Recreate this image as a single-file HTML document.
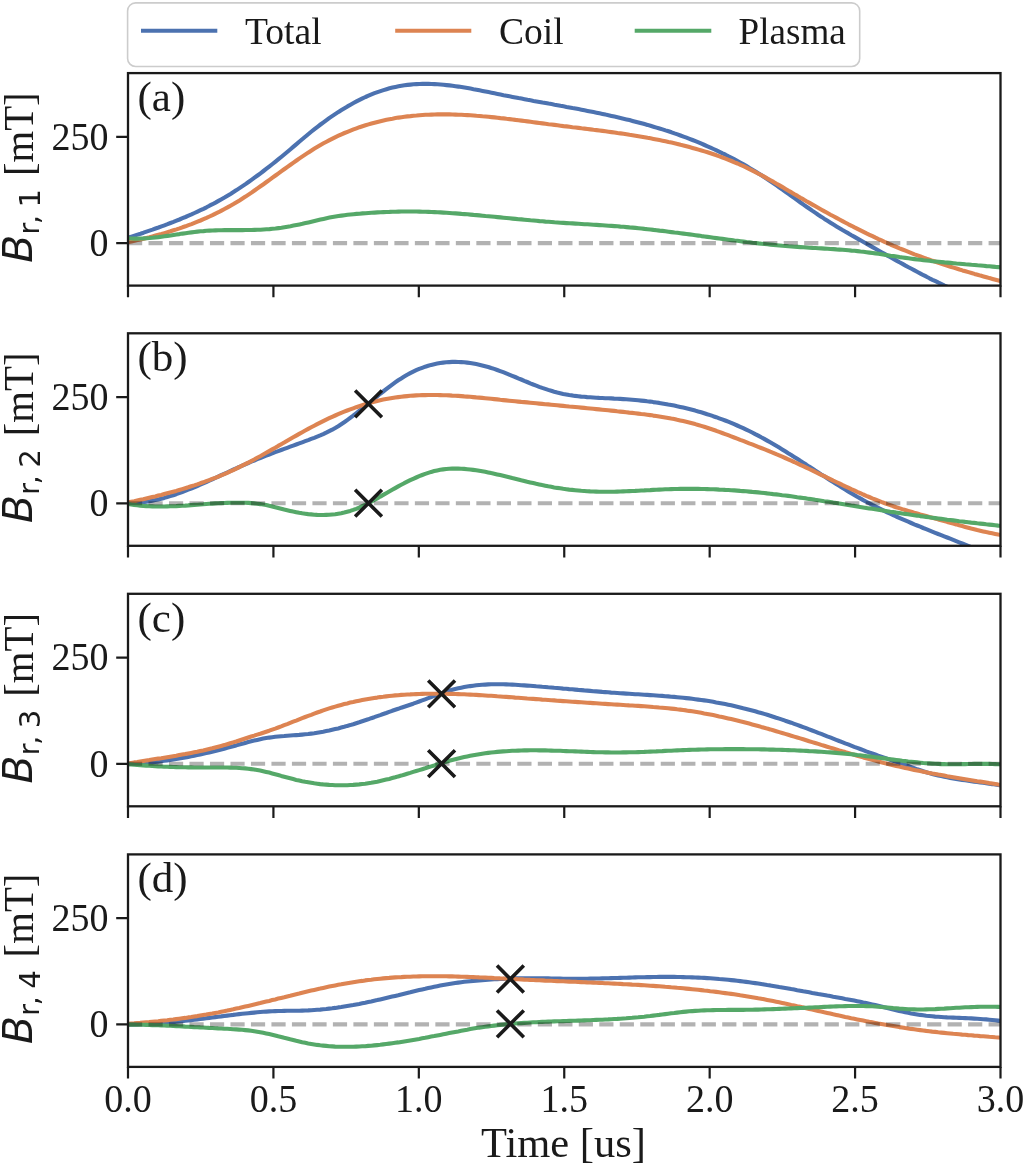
<!DOCTYPE html>
<html><head><meta charset="utf-8"><title>Br plots</title>
<style>
html,body{margin:0;padding:0;background:#fff;width:1025px;height:1165px;overflow:hidden}
svg{display:block}
text{font-family:'Liberation Serif', 'Times New Roman', serif;fill:#1a1a1a}
.tl{font-size:38px}
.al{font-size:42.5px}
.lg{font-size:37.6px}
.pl{font-size:43px}
.m{font-family:'DejaVu Sans',sans-serif}
</style></head><body>
<svg width="1025" height="1165" viewBox="0 0 1025 1165">
<defs>
<clipPath id="c0"><rect x="128.00" y="73.10" width="872.50" height="212.50"/></clipPath>
<clipPath id="c1"><rect x="128.00" y="333.30" width="872.50" height="212.50"/></clipPath>
<clipPath id="c2"><rect x="128.00" y="593.80" width="872.50" height="212.50"/></clipPath>
<clipPath id="c3"><rect x="128.00" y="854.40" width="872.50" height="212.50"/></clipPath>
</defs>
<rect width="1025" height="1165" fill="#fff"/>
<g clip-path="url(#c0)" fill="none" stroke-width="4.10" stroke-linejoin="round" stroke-linecap="butt">
<path d="M128.5 237.6L131.5 236.6 134.5 235.6 137.5 234.6 140.5 233.7 143.5 232.7 146.5 231.6 149.5 230.6 152.5 229.6 155.5 228.5 158.5 227.5 161.5 226.4 164.5 225.3 167.5 224.2 170.5 223.0 173.5 221.9 176.5 220.7 179.5 219.5 182.5 218.2 185.5 217.0 188.5 215.7 191.5 214.4 194.5 213.0 197.5 211.6 200.5 210.2 203.5 208.8 206.5 207.3 209.5 205.7 212.5 204.2 215.5 202.6 218.5 200.9 221.5 199.2 224.5 197.5 227.5 195.7 230.5 193.9 233.5 192.0 236.5 190.1 239.5 188.1 242.5 186.1 245.5 184.1 248.5 182.0 251.5 179.9 254.5 177.7 257.5 175.5 260.5 173.3 263.5 171.0 266.5 168.7 269.5 166.4 272.5 164.0 275.5 161.6 278.5 159.2 281.5 156.7 284.5 154.2 287.5 151.7 290.5 149.2 293.5 146.6 296.5 144.1 299.5 141.5 302.5 139.0 305.5 136.5 308.5 134.0 311.5 131.5 314.5 129.1 317.5 126.8 320.5 124.5 323.5 122.3 326.5 120.1 329.5 117.9 332.5 115.9 335.5 113.9 338.5 111.9 341.5 110.0 344.5 108.2 347.5 106.4 350.5 104.7 353.5 103.0 356.5 101.4 359.5 99.9 362.5 98.4 365.5 97.0 368.5 95.7 371.5 94.4 374.5 93.2 377.5 92.1 380.5 91.1 383.5 90.1 386.5 89.2 389.5 88.3 392.5 87.6 395.5 86.9 398.5 86.3 401.5 85.8 404.5 85.3 407.5 84.9 410.5 84.6 413.5 84.3 416.5 84.1 419.5 84.0 422.5 83.9 425.5 83.9 428.5 83.9 431.5 84.0 434.5 84.1 437.5 84.3 440.5 84.5 443.5 84.8 446.5 85.1 449.5 85.4 452.5 85.8 455.5 86.2 458.5 86.6 461.5 87.1 464.5 87.6 467.5 88.1 470.5 88.6 473.5 89.2 476.5 89.7 479.5 90.3 482.5 90.9 485.5 91.5 488.5 92.1 491.5 92.7 494.5 93.3 497.5 93.9 500.5 94.5 503.5 95.2 506.5 95.7 509.5 96.3 512.5 96.9 515.5 97.5 518.5 98.1 521.5 98.6 524.5 99.2 527.5 99.8 530.5 100.3 533.5 100.9 536.5 101.4 539.5 101.9 542.5 102.5 545.5 103.0 548.5 103.6 551.5 104.1 554.5 104.7 557.5 105.2 560.5 105.8 563.5 106.3 566.5 106.9 569.5 107.4 572.5 108.0 575.5 108.5 578.5 109.1 581.5 109.7 584.5 110.3 587.5 110.9 590.5 111.5 593.5 112.1 596.5 112.7 599.5 113.3 602.5 113.9 605.5 114.6 608.5 115.2 611.5 115.9 614.5 116.6 617.5 117.3 620.5 118.0 623.5 118.7 626.5 119.4 629.5 120.1 632.5 120.9 635.5 121.7 638.5 122.5 641.5 123.3 644.5 124.1 647.5 124.9 650.5 125.8 653.5 126.7 656.5 127.6 659.5 128.5 662.5 129.4 665.5 130.4 668.5 131.3 671.5 132.3 674.5 133.4 677.5 134.4 680.5 135.5 683.5 136.6 686.5 137.7 689.5 138.8 692.5 140.0 695.5 141.2 698.5 142.4 701.5 143.7 704.5 145.0 707.5 146.3 710.5 147.6 713.5 149.0 716.5 150.4 719.5 151.8 722.5 153.3 725.5 154.7 728.5 156.3 731.5 157.8 734.5 159.4 737.5 161.0 740.5 162.7 743.5 164.4 746.5 166.1 749.5 167.9 752.5 169.7 755.5 171.5 758.5 173.4 761.5 175.3 764.5 177.3 767.5 179.2 770.5 181.3 773.5 183.3 776.5 185.4 779.5 187.5 782.5 189.6 785.5 191.7 788.5 193.9 791.5 196.0 794.5 198.2 797.5 200.3 800.5 202.5 803.5 204.6 806.5 206.7 809.5 208.8 812.5 210.9 815.5 212.9 818.5 215.0 821.5 216.9 824.5 218.9 827.5 220.8 830.5 222.7 833.5 224.6 836.5 226.4 839.5 228.2 842.5 230.0 845.5 231.7 848.5 233.4 851.5 235.2 854.5 236.9 857.5 238.6 860.5 240.3 863.5 242.0 866.5 243.7 869.5 245.4 872.5 247.1 875.5 248.8 878.5 250.5 881.5 252.2 884.5 253.9 887.5 255.6 890.5 257.2 893.5 258.9 896.5 260.6 899.5 262.3 902.5 263.9 905.5 265.6 908.5 267.2 911.5 268.8 914.5 270.4 917.5 272.0 920.5 273.6 923.5 275.2 926.5 276.7 929.5 278.3 932.5 279.8 935.5 281.2 938.5 282.7 941.5 284.1 944.5 285.6 947.5 286.9 950.5 288.3 953.5 289.6 956.5 290.9 959.5 292.2 960.0 292.4" stroke="#4C72B0"/>
<path d="M128.5 242.1L131.5 241.4 134.5 240.8 137.5 240.1 140.5 239.4 143.5 238.7 146.5 237.9 149.5 237.2 152.5 236.4 155.5 235.6 158.5 234.8 161.5 234.0 164.5 233.1 167.5 232.2 170.5 231.3 173.5 230.3 176.5 229.4 179.5 228.4 182.5 227.3 185.5 226.3 188.5 225.2 191.5 224.1 194.5 222.9 197.5 221.7 200.5 220.5 203.5 219.2 206.5 217.9 209.5 216.5 212.5 215.1 215.5 213.6 218.5 212.2 221.5 210.6 224.5 209.0 227.5 207.4 230.5 205.7 233.5 204.0 236.5 202.2 239.5 200.4 242.5 198.5 245.5 196.6 248.5 194.6 251.5 192.6 254.5 190.5 257.5 188.4 260.5 186.3 263.5 184.2 266.5 182.0 269.5 179.9 272.5 177.7 275.5 175.5 278.5 173.4 281.5 171.2 284.5 169.0 287.5 166.8 290.5 164.7 293.5 162.6 296.5 160.5 299.5 158.4 302.5 156.4 305.5 154.4 308.5 152.4 311.5 150.5 314.5 148.6 317.5 146.8 320.5 145.0 323.5 143.3 326.5 141.7 329.5 140.1 332.5 138.6 335.5 137.1 338.5 135.7 341.5 134.3 344.5 133.0 347.5 131.8 350.5 130.6 353.5 129.4 356.5 128.3 359.5 127.2 362.5 126.2 365.5 125.3 368.5 124.4 371.5 123.5 374.5 122.7 377.5 121.9 380.5 121.2 383.5 120.5 386.5 119.8 389.5 119.2 392.5 118.7 395.5 118.1 398.5 117.6 401.5 117.2 404.5 116.8 407.5 116.4 410.5 116.1 413.5 115.7 416.5 115.5 419.5 115.2 422.5 115.0 425.5 114.8 428.5 114.7 431.5 114.6 434.5 114.5 437.5 114.4 440.5 114.4 443.5 114.4 446.5 114.4 449.5 114.4 452.5 114.5 455.5 114.6 458.5 114.7 461.5 114.8 464.5 115.0 467.5 115.1 470.5 115.3 473.5 115.5 476.5 115.8 479.5 116.0 482.5 116.3 485.5 116.5 488.5 116.8 491.5 117.1 494.5 117.4 497.5 117.7 500.5 118.1 503.5 118.4 506.5 118.8 509.5 119.1 512.5 119.5 515.5 119.9 518.5 120.2 521.5 120.6 524.5 121.0 527.5 121.4 530.5 121.8 533.5 122.2 536.5 122.6 539.5 123.0 542.5 123.4 545.5 123.8 548.5 124.2 551.5 124.5 554.5 124.9 557.5 125.3 560.5 125.7 563.5 126.1 566.5 126.4 569.5 126.8 572.5 127.2 575.5 127.5 578.5 127.9 581.5 128.3 584.5 128.6 587.5 129.0 590.5 129.4 593.5 129.8 596.5 130.1 599.5 130.5 602.5 130.9 605.5 131.3 608.5 131.7 611.5 132.1 614.5 132.5 617.5 133.0 620.5 133.4 623.5 133.8 626.5 134.3 629.5 134.8 632.5 135.2 635.5 135.7 638.5 136.2 641.5 136.7 644.5 137.2 647.5 137.8 650.5 138.3 653.5 138.9 656.5 139.5 659.5 140.1 662.5 140.7 665.5 141.3 668.5 142.0 671.5 142.6 674.5 143.3 677.5 144.0 680.5 144.8 683.5 145.5 686.5 146.3 689.5 147.1 692.5 147.9 695.5 148.7 698.5 149.6 701.5 150.5 704.5 151.4 707.5 152.3 710.5 153.3 713.5 154.3 716.5 155.3 719.5 156.4 722.5 157.5 725.5 158.6 728.5 159.8 731.5 161.0 734.5 162.3 737.5 163.5 740.5 164.9 743.5 166.2 746.5 167.6 749.5 169.1 752.5 170.6 755.5 172.1 758.5 173.7 761.5 175.3 764.5 176.9 767.5 178.6 770.5 180.2 773.5 181.9 776.5 183.7 779.5 185.4 782.5 187.1 785.5 188.9 788.5 190.7 791.5 192.4 794.5 194.2 797.5 195.9 800.5 197.7 803.5 199.4 806.5 201.2 809.5 202.9 812.5 204.6 815.5 206.3 818.5 208.0 821.5 209.7 824.5 211.4 827.5 213.0 830.5 214.7 833.5 216.3 836.5 217.9 839.5 219.5 842.5 221.1 845.5 222.7 848.5 224.3 851.5 225.8 854.5 227.4 857.5 228.9 860.5 230.4 863.5 231.9 866.5 233.4 869.5 234.8 872.5 236.2 875.5 237.7 878.5 239.1 881.5 240.4 884.5 241.8 887.5 243.1 890.5 244.5 893.5 245.8 896.5 247.0 899.5 248.3 902.5 249.5 905.5 250.7 908.5 251.9 911.5 253.1 914.5 254.3 917.5 255.4 920.5 256.5 923.5 257.6 926.5 258.7 929.5 259.7 932.5 260.8 935.5 261.8 938.5 262.8 941.5 263.8 944.5 264.8 947.5 265.7 950.5 266.7 953.5 267.6 956.5 268.5 959.5 269.5 962.5 270.4 965.5 271.2 968.5 272.1 971.5 273.0 974.5 273.9 977.5 274.7 980.5 275.6 983.5 276.4 986.5 277.2 989.5 278.1 992.5 278.9 995.5 279.7 998.5 280.5 1001.0 281.2" stroke="#DD8452"/>
<path d="M128.5 238.3L131.5 238.5 134.5 238.6 137.5 238.6 140.5 238.5 143.5 238.4 146.5 238.2 149.5 238.0 152.5 237.7 155.5 237.4 158.5 237.1 161.5 236.7 164.5 236.3 167.5 235.9 170.5 235.5 173.5 235.0 176.5 234.5 179.5 234.1 182.5 233.6 185.5 233.2 188.5 232.8 191.5 232.4 194.5 232.0 197.5 231.6 200.5 231.3 203.5 231.1 206.5 230.8 209.5 230.6 212.5 230.5 215.5 230.4 218.5 230.3 221.5 230.2 224.5 230.1 227.5 230.1 230.5 230.1 233.5 230.1 236.5 230.1 239.5 230.1 242.5 230.1 245.5 230.0 248.5 230.0 251.5 230.0 254.5 229.9 257.5 229.8 260.5 229.7 263.5 229.5 266.5 229.3 269.5 229.1 272.5 228.8 275.5 228.5 278.5 228.1 281.5 227.7 284.5 227.2 287.5 226.7 290.5 226.2 293.5 225.6 296.5 225.0 299.5 224.4 302.5 223.8 305.5 223.1 308.5 222.4 311.5 221.7 314.5 221.0 317.5 220.3 320.5 219.6 323.5 218.9 326.5 218.2 329.5 217.6 332.5 217.0 335.5 216.5 338.5 216.0 341.5 215.6 344.5 215.2 347.5 214.8 350.5 214.5 353.5 214.2 356.5 213.9 359.5 213.7 362.5 213.4 365.5 213.2 368.5 213.0 371.5 212.8 374.5 212.6 377.5 212.4 380.5 212.3 383.5 212.1 386.5 212.0 389.5 211.9 392.5 211.7 395.5 211.7 398.5 211.6 401.5 211.5 404.5 211.5 407.5 211.5 410.5 211.5 413.5 211.5 416.5 211.5 419.5 211.6 422.5 211.7 425.5 211.8 428.5 211.9 431.5 212.0 434.5 212.1 437.5 212.3 440.5 212.4 443.5 212.6 446.5 212.8 449.5 213.0 452.5 213.2 455.5 213.4 458.5 213.6 461.5 213.9 464.5 214.1 467.5 214.3 470.5 214.6 473.5 214.9 476.5 215.1 479.5 215.4 482.5 215.7 485.5 216.0 488.5 216.2 491.5 216.5 494.5 216.8 497.5 217.1 500.5 217.4 503.5 217.7 506.5 218.0 509.5 218.3 512.5 218.6 515.5 218.9 518.5 219.2 521.5 219.4 524.5 219.7 527.5 220.0 530.5 220.3 533.5 220.5 536.5 220.8 539.5 221.1 542.5 221.3 545.5 221.6 548.5 221.8 551.5 222.0 554.5 222.3 557.5 222.5 560.5 222.7 563.5 222.9 566.5 223.1 569.5 223.3 572.5 223.4 575.5 223.6 578.5 223.8 581.5 224.0 584.5 224.2 587.5 224.3 590.5 224.5 593.5 224.7 596.5 224.9 599.5 225.1 602.5 225.3 605.5 225.5 608.5 225.7 611.5 225.9 614.5 226.1 617.5 226.3 620.5 226.6 623.5 226.8 626.5 227.1 629.5 227.4 632.5 227.6 635.5 227.9 638.5 228.2 641.5 228.5 644.5 228.9 647.5 229.2 650.5 229.5 653.5 229.9 656.5 230.2 659.5 230.6 662.5 230.9 665.5 231.3 668.5 231.7 671.5 232.1 674.5 232.5 677.5 232.8 680.5 233.2 683.5 233.6 686.5 234.0 689.5 234.4 692.5 234.8 695.5 235.2 698.5 235.6 701.5 236.1 704.5 236.5 707.5 236.9 710.5 237.3 713.5 237.7 716.5 238.1 719.5 238.5 722.5 238.9 725.5 239.3 728.5 239.7 731.5 240.1 734.5 240.5 737.5 240.8 740.5 241.2 743.5 241.6 746.5 242.0 749.5 242.3 752.5 242.7 755.5 243.0 758.5 243.4 761.5 243.7 764.5 244.0 767.5 244.3 770.5 244.6 773.5 244.9 776.5 245.2 779.5 245.5 782.5 245.8 785.5 246.0 788.5 246.3 791.5 246.5 794.5 246.7 797.5 246.9 800.5 247.1 803.5 247.3 806.5 247.5 809.5 247.7 812.5 247.9 815.5 248.0 818.5 248.2 821.5 248.4 824.5 248.6 827.5 248.8 830.5 249.0 833.5 249.1 836.5 249.4 839.5 249.6 842.5 249.8 845.5 250.0 848.5 250.3 851.5 250.6 854.5 250.8 857.5 251.1 860.5 251.5 863.5 251.8 866.5 252.2 869.5 252.6 872.5 253.0 875.5 253.4 878.5 253.8 881.5 254.3 884.5 254.8 887.5 255.2 890.5 255.7 893.5 256.1 896.5 256.6 899.5 257.1 902.5 257.5 905.5 257.9 908.5 258.3 911.5 258.7 914.5 259.1 917.5 259.5 920.5 259.8 923.5 260.2 926.5 260.5 929.5 260.8 932.5 261.2 935.5 261.5 938.5 261.8 941.5 262.1 944.5 262.4 947.5 262.6 950.5 262.9 953.5 263.2 956.5 263.5 959.5 263.7 962.5 264.0 965.5 264.3 968.5 264.5 971.5 264.8 974.5 265.0 977.5 265.3 980.5 265.5 983.5 265.8 986.5 266.1 989.5 266.3 992.5 266.6 995.5 266.9 998.5 267.1 1001.0 267.4" stroke="#55A868"/>
<path d="M128.00 243.10H1000.50" stroke="#000" stroke-opacity="0.3" stroke-dasharray="14.2 6.29"/>
</g>
<rect x="128.00" y="73.10" width="872.50" height="212.50" fill="none" stroke="#1a1a1a" stroke-width="2.3"/>
<path d="M128.00 285.60v11.6M273.42 285.60v11.6M418.83 285.60v11.6M564.25 285.60v11.6M709.67 285.60v11.6M855.08 285.60v11.6M1000.50 285.60v11.6M128.00 243.10h-11.8M128.00 136.85h-11.8" stroke="#1a1a1a" stroke-width="2.2" fill="none"/>
<text transform="translate(108.6 255.90) scale(1 1.05)" text-anchor="end" class="tl">0</text>
<text transform="translate(108.6 149.65) scale(1 1.05)" text-anchor="end" class="tl">250</text>
<text x="137.5" y="110.80" class="pl">(a)</text>
<g transform="translate(0 261.80) rotate(-90)"><text x="-1.0" y="32.1" class="m" font-style="oblique" font-size="41">B</text><text x="27.0" y="39.4" class="m" font-size="29.2">r</text><text x="37.5" y="39.4" class="m" font-size="29.2">,</text><text x="54.3" y="39.5" class="m" font-size="29.2">1</text><text transform="translate(85.7 32.5) scale(0.96 1)" class="al">[mT]</text></g>
<g clip-path="url(#c1)" fill="none" stroke-width="4.10" stroke-linejoin="round" stroke-linecap="butt">
<path d="M128.2 502.9L131.2 502.9 134.2 502.8 137.2 502.7 140.2 502.4 143.2 502.1 146.2 501.7 149.2 501.2 152.2 500.7 155.2 500.1 158.2 499.4 161.2 498.7 164.2 497.9 167.2 497.0 170.2 496.1 173.2 495.2 176.2 494.2 179.2 493.1 182.2 492.0 185.2 490.9 188.2 489.7 191.2 488.5 194.2 487.3 197.2 486.0 200.2 484.7 203.2 483.4 206.2 482.1 209.2 480.7 212.2 479.4 215.2 478.0 218.2 476.6 221.2 475.2 224.2 473.9 227.2 472.5 230.2 471.1 233.2 469.7 236.2 468.3 239.2 467.0 242.2 465.6 245.2 464.3 248.2 463.0 251.2 461.7 254.2 460.5 257.2 459.2 260.2 458.0 263.2 456.8 266.2 455.7 269.2 454.5 272.2 453.4 275.2 452.2 278.2 451.1 281.2 450.0 284.2 448.9 287.2 447.8 290.2 446.7 293.2 445.6 296.2 444.5 299.2 443.4 302.2 442.3 305.2 441.2 308.2 440.1 311.2 438.9 314.2 437.8 317.2 436.6 320.2 435.4 323.2 434.1 326.2 432.7 329.2 431.2 332.2 429.7 335.2 428.0 338.2 426.2 341.2 424.2 344.2 422.2 347.2 420.1 350.2 417.9 353.2 415.7 356.2 413.3 359.2 411.0 362.2 408.6 365.2 406.1 368.2 403.7 371.2 401.2 374.2 398.7 377.2 396.3 380.2 393.8 383.2 391.5 386.2 389.1 389.2 386.8 392.2 384.6 395.2 382.4 398.2 380.3 401.2 378.4 404.2 376.5 407.2 374.7 410.2 373.1 413.2 371.6 416.2 370.2 419.2 368.9 422.2 367.8 425.2 366.7 428.2 365.8 431.2 364.9 434.2 364.2 437.2 363.6 440.2 363.0 443.2 362.6 446.2 362.3 449.2 362.1 452.2 361.9 455.2 361.9 458.2 362.0 461.2 362.1 464.2 362.3 467.2 362.6 470.2 363.0 473.2 363.5 476.2 364.1 479.2 364.7 482.2 365.4 485.2 366.2 488.2 367.0 491.2 368.0 494.2 368.9 497.2 370.0 500.2 371.1 503.2 372.2 506.2 373.4 509.2 374.6 512.2 375.8 515.2 377.0 518.2 378.3 521.2 379.5 524.2 380.8 527.2 382.0 530.2 383.3 533.2 384.5 536.2 385.6 539.2 386.8 542.2 387.9 545.2 388.9 548.2 389.9 551.2 390.8 554.2 391.7 557.2 392.5 560.2 393.2 563.2 393.9 566.2 394.4 569.2 395.0 572.2 395.4 575.2 395.9 578.2 396.2 581.2 396.6 584.2 396.8 587.2 397.1 590.2 397.3 593.2 397.5 596.2 397.7 599.2 397.9 602.2 398.0 605.2 398.2 608.2 398.3 611.2 398.4 614.2 398.6 617.2 398.7 620.2 398.9 623.2 399.1 626.2 399.3 629.2 399.5 632.2 399.7 635.2 400.0 638.2 400.3 641.2 400.6 644.2 400.9 647.2 401.3 650.2 401.6 653.2 402.1 656.2 402.5 659.2 402.9 662.2 403.4 665.2 403.9 668.2 404.5 671.2 405.0 674.2 405.6 677.2 406.3 680.2 406.9 683.2 407.6 686.2 408.3 689.2 409.0 692.2 409.8 695.2 410.6 698.2 411.5 701.2 412.3 704.2 413.2 707.2 414.2 710.2 415.1 713.2 416.2 716.2 417.2 719.2 418.3 722.2 419.4 725.2 420.5 728.2 421.7 731.2 422.9 734.2 424.2 737.2 425.5 740.2 426.8 743.2 428.2 746.2 429.6 749.2 431.0 752.2 432.5 755.2 434.1 758.2 435.6 761.2 437.3 764.2 438.9 767.2 440.6 770.2 442.3 773.2 444.0 776.2 445.8 779.2 447.6 782.2 449.4 785.2 451.3 788.2 453.2 791.2 455.0 794.2 456.9 797.2 458.8 800.2 460.8 803.2 462.7 806.2 464.6 809.2 466.6 812.2 468.5 815.2 470.5 818.2 472.4 821.2 474.4 824.2 476.3 827.2 478.2 830.2 480.2 833.2 482.1 836.2 484.0 839.2 485.8 842.2 487.7 845.2 489.5 848.2 491.4 851.2 493.2 854.2 494.9 857.2 496.7 860.2 498.4 863.2 500.1 866.2 501.7 869.2 503.3 872.2 504.9 875.2 506.4 878.2 507.9 881.2 509.4 884.2 510.9 887.2 512.3 890.2 513.7 893.2 515.1 896.2 516.5 899.2 517.8 902.2 519.1 905.2 520.4 908.2 521.7 911.2 523.0 914.2 524.3 917.2 525.5 920.2 526.7 923.2 528.0 926.2 529.2 929.2 530.4 932.2 531.6 935.2 532.8 938.2 534.0 941.2 535.1 944.2 536.3 947.2 537.5 950.2 538.7 953.2 539.9 956.2 541.1 959.2 542.3 962.2 543.5 965.2 544.7 968.2 545.9 971.2 547.1 974.2 548.4 977.2 549.6 980.0 550.8" stroke="#4C72B0"/>
<path d="M128.2 502.4L131.2 501.8 134.2 501.2 137.2 500.5 140.2 499.8 143.2 499.2 146.2 498.5 149.2 497.8 152.2 497.1 155.2 496.4 158.2 495.6 161.2 494.9 164.2 494.1 167.2 493.3 170.2 492.5 173.2 491.7 176.2 490.9 179.2 490.0 182.2 489.1 185.2 488.2 188.2 487.3 191.2 486.3 194.2 485.4 197.2 484.4 200.2 483.3 203.2 482.3 206.2 481.2 209.2 480.1 212.2 478.9 215.2 477.8 218.2 476.6 221.2 475.3 224.2 474.1 227.2 472.8 230.2 471.4 233.2 470.1 236.2 468.7 239.2 467.2 242.2 465.7 245.2 464.2 248.2 462.7 251.2 461.1 254.2 459.5 257.2 457.8 260.2 456.2 263.2 454.5 266.2 452.8 269.2 451.1 272.2 449.4 275.2 447.7 278.2 445.9 281.2 444.2 284.2 442.5 287.2 440.7 290.2 439.0 293.2 437.3 296.2 435.6 299.2 433.9 302.2 432.2 305.2 430.5 308.2 428.9 311.2 427.3 314.2 425.7 317.2 424.1 320.2 422.6 323.2 421.1 326.2 419.6 329.2 418.2 332.2 416.8 335.2 415.5 338.2 414.2 341.2 412.9 344.2 411.7 347.2 410.5 350.2 409.4 353.2 408.3 356.2 407.2 359.2 406.2 362.2 405.2 365.2 404.3 368.2 403.4 371.2 402.5 374.2 401.8 377.2 401.0 380.2 400.3 383.2 399.6 386.2 399.0 389.2 398.5 392.2 398.0 395.2 397.5 398.2 397.1 401.2 396.7 404.2 396.4 407.2 396.1 410.2 395.8 413.2 395.6 416.2 395.4 419.2 395.3 422.2 395.1 425.2 395.1 428.2 395.0 431.2 395.0 434.2 395.0 437.2 395.0 440.2 395.1 443.2 395.2 446.2 395.3 449.2 395.4 452.2 395.6 455.2 395.7 458.2 395.9 461.2 396.1 464.2 396.4 467.2 396.6 470.2 396.8 473.2 397.1 476.2 397.4 479.2 397.6 482.2 397.9 485.2 398.2 488.2 398.5 491.2 398.8 494.2 399.1 497.2 399.4 500.2 399.8 503.2 400.1 506.2 400.4 509.2 400.7 512.2 401.0 515.2 401.3 518.2 401.6 521.2 401.9 524.2 402.1 527.2 402.4 530.2 402.7 533.2 403.0 536.2 403.3 539.2 403.6 542.2 403.9 545.2 404.2 548.2 404.4 551.2 404.7 554.2 405.0 557.2 405.3 560.2 405.6 563.2 405.9 566.2 406.2 569.2 406.5 572.2 406.7 575.2 407.0 578.2 407.3 581.2 407.6 584.2 407.9 587.2 408.2 590.2 408.5 593.2 408.8 596.2 409.1 599.2 409.4 602.2 409.7 605.2 410.0 608.2 410.3 611.2 410.6 614.2 410.9 617.2 411.3 620.2 411.6 623.2 411.9 626.2 412.2 629.2 412.6 632.2 412.9 635.2 413.2 638.2 413.6 641.2 414.0 644.2 414.3 647.2 414.7 650.2 415.1 653.2 415.6 656.2 416.0 659.2 416.5 662.2 417.0 665.2 417.5 668.2 418.0 671.2 418.6 674.2 419.1 677.2 419.8 680.2 420.4 683.2 421.1 686.2 421.8 689.2 422.5 692.2 423.3 695.2 424.1 698.2 425.0 701.2 425.9 704.2 426.8 707.2 427.8 710.2 428.8 713.2 429.8 716.2 430.8 719.2 431.9 722.2 433.0 725.2 434.1 728.2 435.2 731.2 436.3 734.2 437.5 737.2 438.6 740.2 439.8 743.2 440.9 746.2 442.1 749.2 443.3 752.2 444.4 755.2 445.6 758.2 446.8 761.2 448.0 764.2 449.2 767.2 450.4 770.2 451.7 773.2 452.9 776.2 454.2 779.2 455.4 782.2 456.7 785.2 458.0 788.2 459.3 791.2 460.7 794.2 462.0 797.2 463.4 800.2 464.8 803.2 466.2 806.2 467.6 809.2 469.0 812.2 470.4 815.2 471.9 818.2 473.3 821.2 474.8 824.2 476.2 827.2 477.7 830.2 479.1 833.2 480.6 836.2 482.0 839.2 483.4 842.2 484.9 845.2 486.3 848.2 487.7 851.2 489.1 854.2 490.4 857.2 491.8 860.2 493.1 863.2 494.5 866.2 495.8 869.2 497.0 872.2 498.3 875.2 499.5 878.2 500.7 881.2 501.9 884.2 503.0 887.2 504.1 890.2 505.1 893.2 506.2 896.2 507.2 899.2 508.1 902.2 509.1 905.2 510.0 908.2 510.9 911.2 511.8 914.2 512.7 917.2 513.5 920.2 514.4 923.2 515.2 926.2 516.0 929.2 516.9 932.2 517.7 935.2 518.5 938.2 519.4 941.2 520.2 944.2 521.0 947.2 521.9 950.2 522.7 953.2 523.6 956.2 524.4 959.2 525.3 962.2 526.1 965.2 526.9 968.2 527.7 971.2 528.5 974.2 529.2 977.2 530.0 980.2 530.7 983.2 531.4 986.2 532.1 989.2 532.7 992.2 533.3 995.2 533.9 998.2 534.5 1001.0 534.9" stroke="#DD8452"/>
<path d="M128.2 504.0L131.2 504.5 134.2 504.9 137.2 505.3 140.2 505.6 143.2 505.9 146.2 506.1 149.2 506.3 152.2 506.4 155.2 506.5 158.2 506.5 161.2 506.5 164.2 506.5 167.2 506.4 170.2 506.3 173.2 506.2 176.2 506.1 179.2 505.9 182.2 505.7 185.2 505.6 188.2 505.4 191.2 505.1 194.2 504.9 197.2 504.7 200.2 504.5 203.2 504.3 206.2 504.0 209.2 503.8 212.2 503.6 215.2 503.4 218.2 503.3 221.2 503.1 224.2 503.0 227.2 502.9 230.2 502.8 233.2 502.7 236.2 502.7 239.2 502.7 242.2 502.7 245.2 502.8 248.2 502.9 251.2 503.1 254.2 503.4 257.2 503.7 260.2 504.1 263.2 504.6 266.2 505.1 269.2 505.8 272.2 506.4 275.2 507.2 278.2 507.9 281.2 508.7 284.2 509.5 287.2 510.2 290.2 510.9 293.2 511.6 296.2 512.2 299.2 512.8 302.2 513.3 305.2 513.7 308.2 514.1 311.2 514.4 314.2 514.7 317.2 514.9 320.2 515.0 323.2 515.0 326.2 514.9 329.2 514.8 332.2 514.5 335.2 514.2 338.2 513.7 341.2 513.2 344.2 512.5 347.2 511.7 350.2 510.9 353.2 509.9 356.2 508.8 359.2 507.6 362.2 506.2 365.2 504.8 368.2 503.3 371.2 501.7 374.2 500.0 377.2 498.4 380.2 496.6 383.2 494.9 386.2 493.2 389.2 491.5 392.2 489.8 395.2 488.1 398.2 486.4 401.2 484.8 404.2 483.2 407.2 481.7 410.2 480.2 413.2 478.8 416.2 477.5 419.2 476.2 422.2 475.0 425.2 473.9 428.2 472.9 431.2 471.9 434.2 471.1 437.2 470.4 440.2 469.8 443.2 469.4 446.2 469.0 449.2 468.8 452.2 468.6 455.2 468.6 458.2 468.6 461.2 468.7 464.2 468.9 467.2 469.2 470.2 469.5 473.2 469.9 476.2 470.3 479.2 470.8 482.2 471.3 485.2 471.8 488.2 472.4 491.2 473.1 494.2 473.7 497.2 474.4 500.2 475.1 503.2 475.8 506.2 476.5 509.2 477.2 512.2 478.0 515.2 478.7 518.2 479.4 521.2 480.2 524.2 480.9 527.2 481.7 530.2 482.4 533.2 483.1 536.2 483.8 539.2 484.4 542.2 485.1 545.2 485.7 548.2 486.3 551.2 486.8 554.2 487.4 557.2 487.9 560.2 488.3 563.2 488.8 566.2 489.2 569.2 489.6 572.2 489.9 575.2 490.2 578.2 490.5 581.2 490.8 584.2 491.0 587.2 491.2 590.2 491.4 593.2 491.5 596.2 491.6 599.2 491.7 602.2 491.7 605.2 491.8 608.2 491.7 611.2 491.7 614.2 491.7 617.2 491.6 620.2 491.5 623.2 491.4 626.2 491.3 629.2 491.1 632.2 491.0 635.2 490.9 638.2 490.7 641.2 490.5 644.2 490.4 647.2 490.2 650.2 490.1 653.2 489.9 656.2 489.7 659.2 489.6 662.2 489.5 665.2 489.3 668.2 489.2 671.2 489.1 674.2 489.0 677.2 489.0 680.2 488.9 683.2 488.9 686.2 488.9 689.2 488.9 692.2 488.9 695.2 488.9 698.2 488.9 701.2 489.0 704.2 489.0 707.2 489.1 710.2 489.2 713.2 489.3 716.2 489.4 719.2 489.6 722.2 489.7 725.2 489.9 728.2 490.0 731.2 490.2 734.2 490.4 737.2 490.6 740.2 490.9 743.2 491.1 746.2 491.3 749.2 491.6 752.2 491.9 755.2 492.1 758.2 492.4 761.2 492.7 764.2 493.0 767.2 493.4 770.2 493.7 773.2 494.1 776.2 494.4 779.2 494.8 782.2 495.2 785.2 495.5 788.2 495.9 791.2 496.3 794.2 496.7 797.2 497.2 800.2 497.6 803.2 498.0 806.2 498.4 809.2 498.9 812.2 499.3 815.2 499.8 818.2 500.2 821.2 500.7 824.2 501.2 827.2 501.6 830.2 502.1 833.2 502.6 836.2 503.0 839.2 503.5 842.2 504.0 845.2 504.5 848.2 505.0 851.2 505.5 854.2 505.9 857.2 506.4 860.2 506.9 863.2 507.4 866.2 507.9 869.2 508.4 872.2 508.8 875.2 509.3 878.2 509.8 881.2 510.3 884.2 510.7 887.2 511.2 890.2 511.7 893.2 512.1 896.2 512.6 899.2 513.0 902.2 513.5 905.2 513.9 908.2 514.3 911.2 514.8 914.2 515.2 917.2 515.6 920.2 516.1 923.2 516.5 926.2 516.9 929.2 517.3 932.2 517.7 935.2 518.1 938.2 518.5 941.2 518.9 944.2 519.3 947.2 519.7 950.2 520.0 953.2 520.4 956.2 520.8 959.2 521.2 962.2 521.5 965.2 521.9 968.2 522.2 971.2 522.6 974.2 522.9 977.2 523.3 980.2 523.6 983.2 523.9 986.2 524.3 989.2 524.6 992.2 524.9 995.2 525.2 998.2 525.6 1001.0 525.8" stroke="#55A868"/>
<path d="M128.00 503.30H1000.50" stroke="#000" stroke-opacity="0.3" stroke-dasharray="14.2 6.29"/>
<path d="M355.10 390.50L381.90 417.30M355.10 417.30L381.90 390.50" stroke="#1a1a1a" stroke-width="3.6"/>
<path d="M355.10 489.80L381.90 516.60M355.10 516.60L381.90 489.80" stroke="#1a1a1a" stroke-width="3.6"/>
</g>
<rect x="128.00" y="333.30" width="872.50" height="212.50" fill="none" stroke="#1a1a1a" stroke-width="2.3"/>
<path d="M128.00 545.80v11.6M273.42 545.80v11.6M418.83 545.80v11.6M564.25 545.80v11.6M709.67 545.80v11.6M855.08 545.80v11.6M1000.50 545.80v11.6M128.00 503.30h-11.8M128.00 397.05h-11.8" stroke="#1a1a1a" stroke-width="2.2" fill="none"/>
<text transform="translate(108.6 516.10) scale(1 1.05)" text-anchor="end" class="tl">0</text>
<text transform="translate(108.6 409.85) scale(1 1.05)" text-anchor="end" class="tl">250</text>
<text x="137.5" y="371.00" class="pl">(b)</text>
<g transform="translate(0 522.00) rotate(-90)"><text x="-1.0" y="32.1" class="m" font-style="oblique" font-size="41">B</text><text x="27.0" y="39.4" class="m" font-size="29.2">r</text><text x="37.5" y="39.4" class="m" font-size="29.2">,</text><text x="54.3" y="39.5" class="m" font-size="29.2">2</text><text transform="translate(85.7 32.5) scale(0.96 1)" class="al">[mT]</text></g>
<g clip-path="url(#c2)" fill="none" stroke-width="4.10" stroke-linejoin="round" stroke-linecap="butt">
<path d="M128.2 764.1L131.2 764.0 134.2 763.8 137.2 763.6 140.2 763.4 143.2 763.1 146.2 762.9 149.2 762.6 152.2 762.3 155.2 761.9 158.2 761.6 161.2 761.2 164.2 760.8 167.2 760.4 170.2 760.0 173.2 759.5 176.2 759.0 179.2 758.5 182.2 758.0 185.2 757.5 188.2 756.9 191.2 756.3 194.2 755.7 197.2 755.1 200.2 754.5 203.2 753.8 206.2 753.1 209.2 752.4 212.2 751.7 215.2 751.0 218.2 750.2 221.2 749.4 224.2 748.7 227.2 747.8 230.2 747.0 233.2 746.2 236.2 745.4 239.2 744.5 242.2 743.7 245.2 742.9 248.2 742.1 251.2 741.3 254.2 740.6 257.2 739.9 260.2 739.2 263.2 738.6 266.2 738.1 269.2 737.6 272.2 737.2 275.2 736.8 278.2 736.5 281.2 736.2 284.2 736.0 287.2 735.7 290.2 735.5 293.2 735.3 296.2 735.1 299.2 734.9 302.2 734.6 305.2 734.3 308.2 734.0 311.2 733.6 314.2 733.2 317.2 732.7 320.2 732.2 323.2 731.7 326.2 731.1 329.2 730.5 332.2 729.8 335.2 729.1 338.2 728.4 341.2 727.6 344.2 726.8 347.2 725.9 350.2 725.1 353.2 724.2 356.2 723.2 359.2 722.3 362.2 721.3 365.2 720.3 368.2 719.3 371.2 718.2 374.2 717.2 377.2 716.1 380.2 715.1 383.2 714.0 386.2 713.0 389.2 711.9 392.2 710.8 395.2 709.8 398.2 708.8 401.2 707.7 404.2 706.7 407.2 705.7 410.2 704.7 413.2 703.7 416.2 702.6 419.2 701.5 422.2 700.4 425.2 699.3 428.2 698.2 431.2 697.0 434.2 695.9 437.2 694.7 440.2 693.7 443.2 692.6 446.2 691.6 449.2 690.7 452.2 689.8 455.2 689.0 458.2 688.3 461.2 687.7 464.2 687.1 467.2 686.6 470.2 686.1 473.2 685.7 476.2 685.3 479.2 685.0 482.2 684.8 485.2 684.6 488.2 684.4 491.2 684.3 494.2 684.3 497.2 684.2 500.2 684.3 503.2 684.3 506.2 684.4 509.2 684.5 512.2 684.6 515.2 684.8 518.2 685.0 521.2 685.2 524.2 685.4 527.2 685.6 530.2 685.8 533.2 686.0 536.2 686.3 539.2 686.5 542.2 686.8 545.2 687.0 548.2 687.3 551.2 687.5 554.2 687.8 557.2 688.0 560.2 688.3 563.2 688.6 566.2 688.8 569.2 689.1 572.2 689.3 575.2 689.6 578.2 689.9 581.2 690.1 584.2 690.4 587.2 690.6 590.2 690.9 593.2 691.2 596.2 691.4 599.2 691.6 602.2 691.9 605.2 692.1 608.2 692.3 611.2 692.6 614.2 692.8 617.2 693.0 620.2 693.2 623.2 693.4 626.2 693.6 629.2 693.8 632.2 694.0 635.2 694.2 638.2 694.3 641.2 694.5 644.2 694.7 647.2 694.9 650.2 695.1 653.2 695.3 656.2 695.5 659.2 695.7 662.2 695.9 665.2 696.2 668.2 696.4 671.2 696.7 674.2 696.9 677.2 697.2 680.2 697.5 683.2 697.8 686.2 698.1 689.2 698.4 692.2 698.8 695.2 699.2 698.2 699.6 701.2 700.0 704.2 700.4 707.2 700.8 710.2 701.3 713.2 701.8 716.2 702.4 719.2 702.9 722.2 703.5 725.2 704.1 728.2 704.7 731.2 705.3 734.2 706.0 737.2 706.7 740.2 707.4 743.2 708.2 746.2 708.9 749.2 709.7 752.2 710.5 755.2 711.3 758.2 712.2 761.2 713.0 764.2 713.9 767.2 714.8 770.2 715.7 773.2 716.7 776.2 717.7 779.2 718.6 782.2 719.6 785.2 720.7 788.2 721.7 791.2 722.7 794.2 723.8 797.2 724.9 800.2 726.0 803.2 727.1 806.2 728.2 809.2 729.3 812.2 730.5 815.2 731.6 818.2 732.8 821.2 733.9 824.2 735.1 827.2 736.3 830.2 737.4 833.2 738.6 836.2 739.8 839.2 741.0 842.2 742.1 845.2 743.3 848.2 744.4 851.2 745.6 854.2 746.8 857.2 747.9 860.2 749.0 863.2 750.1 866.2 751.3 869.2 752.4 872.2 753.4 875.2 754.5 878.2 755.6 881.2 756.6 884.2 757.6 887.2 758.7 890.2 759.7 893.2 760.7 896.2 761.7 899.2 762.8 902.2 763.8 905.2 764.9 908.2 766.0 911.2 767.1 914.2 768.2 917.2 769.3 920.2 770.3 923.2 771.3 926.2 772.2 929.2 773.1 932.2 773.9 935.2 774.7 938.2 775.4 941.2 776.1 944.2 776.7 947.2 777.3 950.2 777.9 953.2 778.4 956.2 778.9 959.2 779.4 962.2 779.9 965.2 780.3 968.2 780.7 971.2 781.2 974.2 781.6 977.2 782.0 980.2 782.4 983.2 782.8 986.2 783.2 989.2 783.7 992.2 784.1 995.2 784.6 998.2 785.1 1001.0 785.6" stroke="#4C72B0"/>
<path d="M128.2 763.4L131.2 762.9 134.2 762.4 137.2 762.0 140.2 761.5 143.2 761.0 146.2 760.5 149.2 760.1 152.2 759.6 155.2 759.1 158.2 758.6 161.2 758.2 164.2 757.7 167.2 757.2 170.2 756.7 173.2 756.2 176.2 755.7 179.2 755.1 182.2 754.6 185.2 754.1 188.2 753.5 191.2 752.9 194.2 752.3 197.2 751.7 200.2 751.0 203.2 750.4 206.2 749.7 209.2 749.0 212.2 748.3 215.2 747.5 218.2 746.7 221.2 745.9 224.2 745.1 227.2 744.2 230.2 743.3 233.2 742.4 236.2 741.5 239.2 740.5 242.2 739.5 245.2 738.5 248.2 737.5 251.2 736.5 254.2 735.6 257.2 734.6 260.2 733.7 263.2 732.7 266.2 731.7 269.2 730.7 272.2 729.6 275.2 728.6 278.2 727.5 281.2 726.4 284.2 725.2 287.2 724.1 290.2 722.9 293.2 721.7 296.2 720.6 299.2 719.4 302.2 718.2 305.2 717.0 308.2 715.9 311.2 714.8 314.2 713.6 317.2 712.5 320.2 711.5 323.2 710.4 326.2 709.4 329.2 708.4 332.2 707.5 335.2 706.6 338.2 705.7 341.2 704.9 344.2 704.1 347.2 703.4 350.2 702.6 353.2 702.0 356.2 701.3 359.2 700.7 362.2 700.1 365.2 699.5 368.2 699.0 371.2 698.5 374.2 698.0 377.2 697.6 380.2 697.1 383.2 696.8 386.2 696.4 389.2 696.0 392.2 695.7 395.2 695.4 398.2 695.2 401.2 694.9 404.2 694.7 407.2 694.5 410.2 694.4 413.2 694.2 416.2 694.1 419.2 694.0 422.2 693.9 425.2 693.8 428.2 693.8 431.2 693.7 434.2 693.7 437.2 693.7 440.2 693.7 443.2 693.8 446.2 693.8 449.2 693.9 452.2 693.9 455.2 694.0 458.2 694.1 461.2 694.2 464.2 694.3 467.2 694.5 470.2 694.6 473.2 694.8 476.2 694.9 479.2 695.1 482.2 695.3 485.2 695.5 488.2 695.7 491.2 695.8 494.2 696.0 497.2 696.3 500.2 696.5 503.2 696.7 506.2 696.9 509.2 697.1 512.2 697.3 515.2 697.6 518.2 697.8 521.2 698.0 524.2 698.2 527.2 698.5 530.2 698.7 533.2 698.9 536.2 699.1 539.2 699.3 542.2 699.6 545.2 699.8 548.2 700.0 551.2 700.2 554.2 700.4 557.2 700.7 560.2 700.9 563.2 701.1 566.2 701.3 569.2 701.5 572.2 701.7 575.2 701.9 578.2 702.1 581.2 702.3 584.2 702.5 587.2 702.7 590.2 702.9 593.2 703.1 596.2 703.3 599.2 703.5 602.2 703.7 605.2 703.9 608.2 704.1 611.2 704.3 614.2 704.5 617.2 704.6 620.2 704.8 623.2 705.0 626.2 705.2 629.2 705.4 632.2 705.5 635.2 705.7 638.2 705.9 641.2 706.1 644.2 706.3 647.2 706.5 650.2 706.7 653.2 707.0 656.2 707.2 659.2 707.5 662.2 707.7 665.2 708.0 668.2 708.3 671.2 708.6 674.2 708.9 677.2 709.3 680.2 709.6 683.2 710.0 686.2 710.4 689.2 710.9 692.2 711.3 695.2 711.8 698.2 712.3 701.2 712.8 704.2 713.4 707.2 713.9 710.2 714.5 713.2 715.1 716.2 715.7 719.2 716.4 722.2 717.0 725.2 717.7 728.2 718.4 731.2 719.1 734.2 719.8 737.2 720.5 740.2 721.3 743.2 722.0 746.2 722.8 749.2 723.6 752.2 724.4 755.2 725.2 758.2 726.0 761.2 726.9 764.2 727.7 767.2 728.6 770.2 729.4 773.2 730.3 776.2 731.2 779.2 732.1 782.2 733.0 785.2 733.9 788.2 734.8 791.2 735.7 794.2 736.6 797.2 737.5 800.2 738.4 803.2 739.3 806.2 740.2 809.2 741.2 812.2 742.1 815.2 743.0 818.2 743.9 821.2 744.9 824.2 745.8 827.2 746.7 830.2 747.6 833.2 748.5 836.2 749.4 839.2 750.4 842.2 751.3 845.2 752.1 848.2 753.0 851.2 753.9 854.2 754.8 857.2 755.7 860.2 756.5 863.2 757.4 866.2 758.2 869.2 759.0 872.2 759.8 875.2 760.6 878.2 761.4 881.2 762.2 884.2 763.0 887.2 763.7 890.2 764.5 893.2 765.2 896.2 765.9 899.2 766.6 902.2 767.3 905.2 768.0 908.2 768.6 911.2 769.3 914.2 769.9 917.2 770.5 920.2 771.1 923.2 771.7 926.2 772.3 929.2 772.9 932.2 773.5 935.2 774.0 938.2 774.6 941.2 775.1 944.2 775.6 947.2 776.2 950.2 776.7 953.2 777.2 956.2 777.7 959.2 778.2 962.2 778.7 965.2 779.2 968.2 779.7 971.2 780.2 974.2 780.7 977.2 781.2 980.2 781.6 983.2 782.1 986.2 782.6 989.2 783.1 992.2 783.5 995.2 784.0 998.2 784.5 1001.0 784.9" stroke="#DD8452"/>
<path d="M128.2 764.3L131.2 764.5 134.2 764.8 137.2 765.0 140.2 765.2 143.2 765.4 146.2 765.6 149.2 765.8 152.2 766.0 155.2 766.2 158.2 766.4 161.2 766.5 164.2 766.7 167.2 766.8 170.2 766.9 173.2 767.0 176.2 767.1 179.2 767.2 182.2 767.3 185.2 767.3 188.2 767.4 191.2 767.4 194.2 767.5 197.2 767.5 200.2 767.5 203.2 767.5 206.2 767.5 209.2 767.5 212.2 767.5 215.2 767.5 218.2 767.5 221.2 767.5 224.2 767.5 227.2 767.5 230.2 767.6 233.2 767.7 236.2 767.8 239.2 768.0 242.2 768.2 245.2 768.4 248.2 768.7 251.2 769.1 254.2 769.5 257.2 770.0 260.2 770.5 263.2 771.2 266.2 771.9 269.2 772.6 272.2 773.4 275.2 774.2 278.2 775.0 281.2 775.9 284.2 776.7 287.2 777.5 290.2 778.3 293.2 779.1 296.2 779.9 299.2 780.5 302.2 781.2 305.2 781.8 308.2 782.3 311.2 782.8 314.2 783.3 317.2 783.7 320.2 784.1 323.2 784.4 326.2 784.6 329.2 784.9 332.2 785.0 335.2 785.2 338.2 785.2 341.2 785.3 344.2 785.2 347.2 785.2 350.2 785.0 353.2 784.9 356.2 784.6 359.2 784.4 362.2 784.0 365.2 783.7 368.2 783.2 371.2 782.8 374.2 782.2 377.2 781.7 380.2 781.0 383.2 780.3 386.2 779.6 389.2 778.9 392.2 778.1 395.2 777.3 398.2 776.4 401.2 775.6 404.2 774.7 407.2 773.8 410.2 772.9 413.2 771.9 416.2 771.0 419.2 770.1 422.2 769.2 425.2 768.3 428.2 767.3 431.2 766.4 434.2 765.5 437.2 764.5 440.2 763.6 443.2 762.6 446.2 761.7 449.2 760.8 452.2 760.0 455.2 759.2 458.2 758.4 461.2 757.7 464.2 757.0 467.2 756.4 470.2 755.8 473.2 755.2 476.2 754.7 479.2 754.2 482.2 753.7 485.2 753.3 488.2 752.9 491.2 752.5 494.2 752.2 497.2 751.9 500.2 751.6 503.2 751.4 506.2 751.2 509.2 751.0 512.2 750.8 515.2 750.7 518.2 750.6 521.2 750.5 524.2 750.4 527.2 750.4 530.2 750.3 533.2 750.3 536.2 750.3 539.2 750.4 542.2 750.4 545.2 750.4 548.2 750.5 551.2 750.6 554.2 750.7 557.2 750.7 560.2 750.8 563.2 751.0 566.2 751.1 569.2 751.2 572.2 751.3 575.2 751.4 578.2 751.5 581.2 751.6 584.2 751.8 587.2 751.9 590.2 752.0 593.2 752.1 596.2 752.2 599.2 752.2 602.2 752.3 605.2 752.4 608.2 752.4 611.2 752.5 614.2 752.5 617.2 752.5 620.2 752.5 623.2 752.4 626.2 752.4 629.2 752.3 632.2 752.3 635.2 752.2 638.2 752.1 641.2 752.0 644.2 751.9 647.2 751.7 650.2 751.6 653.2 751.5 656.2 751.4 659.2 751.2 662.2 751.1 665.2 750.9 668.2 750.8 671.2 750.7 674.2 750.5 677.2 750.4 680.2 750.3 683.2 750.1 686.2 750.0 689.2 749.9 692.2 749.8 695.2 749.7 698.2 749.6 701.2 749.5 704.2 749.5 707.2 749.4 710.2 749.3 713.2 749.3 716.2 749.2 719.2 749.2 722.2 749.2 725.2 749.1 728.2 749.1 731.2 749.1 734.2 749.1 737.2 749.1 740.2 749.1 743.2 749.1 746.2 749.2 749.2 749.2 752.2 749.2 755.2 749.3 758.2 749.3 761.2 749.4 764.2 749.4 767.2 749.5 770.2 749.6 773.2 749.6 776.2 749.7 779.2 749.8 782.2 749.9 785.2 750.0 788.2 750.1 791.2 750.2 794.2 750.3 797.2 750.5 800.2 750.6 803.2 750.7 806.2 750.9 809.2 751.1 812.2 751.2 815.2 751.4 818.2 751.6 821.2 751.8 824.2 752.0 827.2 752.2 830.2 752.4 833.2 752.6 836.2 752.9 839.2 753.2 842.2 753.4 845.2 753.7 848.2 754.0 851.2 754.3 854.2 754.6 857.2 755.0 860.2 755.3 863.2 755.7 866.2 756.1 869.2 756.4 872.2 756.8 875.2 757.2 878.2 757.6 881.2 758.0 884.2 758.4 887.2 758.8 890.2 759.2 893.2 759.6 896.2 760.0 899.2 760.4 902.2 760.8 905.2 761.1 908.2 761.5 911.2 761.8 914.2 762.1 917.2 762.4 920.2 762.7 923.2 763.0 926.2 763.2 929.2 763.4 932.2 763.6 935.2 763.8 938.2 763.9 941.2 764.1 944.2 764.1 947.2 764.2 950.2 764.2 953.2 764.2 956.2 764.2 959.2 764.2 962.2 764.1 965.2 764.1 968.2 764.0 971.2 764.0 974.2 763.9 977.2 763.9 980.2 763.9 983.2 763.9 986.2 763.9 989.2 763.9 992.2 764.0 995.2 764.1 998.2 764.2 1001.0 764.4" stroke="#55A868"/>
<path d="M128.00 763.80H1000.50" stroke="#000" stroke-opacity="0.3" stroke-dasharray="14.2 6.29"/>
<path d="M428.20 680.50L455.00 707.30M428.20 707.30L455.00 680.50" stroke="#1a1a1a" stroke-width="3.6"/>
<path d="M428.20 750.20L455.00 777.00M428.20 777.00L455.00 750.20" stroke="#1a1a1a" stroke-width="3.6"/>
</g>
<rect x="128.00" y="593.80" width="872.50" height="212.50" fill="none" stroke="#1a1a1a" stroke-width="2.3"/>
<path d="M128.00 806.30v11.6M273.42 806.30v11.6M418.83 806.30v11.6M564.25 806.30v11.6M709.67 806.30v11.6M855.08 806.30v11.6M1000.50 806.30v11.6M128.00 763.80h-11.8M128.00 657.55h-11.8" stroke="#1a1a1a" stroke-width="2.2" fill="none"/>
<text transform="translate(108.6 776.60) scale(1 1.05)" text-anchor="end" class="tl">0</text>
<text transform="translate(108.6 670.35) scale(1 1.05)" text-anchor="end" class="tl">250</text>
<text x="137.5" y="631.50" class="pl">(c)</text>
<g transform="translate(0 782.50) rotate(-90)"><text x="-1.0" y="32.1" class="m" font-style="oblique" font-size="41">B</text><text x="27.0" y="39.4" class="m" font-size="29.2">r</text><text x="37.5" y="39.4" class="m" font-size="29.2">,</text><text x="54.3" y="39.5" class="m" font-size="29.2">3</text><text transform="translate(85.7 32.5) scale(0.96 1)" class="al">[mT]</text></g>
<g clip-path="url(#c3)" fill="none" stroke-width="4.10" stroke-linejoin="round" stroke-linecap="butt">
<path d="M128.2 1024.5L131.2 1024.5 134.2 1024.5 137.2 1024.4 140.2 1024.3 143.2 1024.2 146.2 1024.1 149.2 1024.0 152.2 1023.8 155.2 1023.6 158.2 1023.4 161.2 1023.2 164.2 1022.9 167.2 1022.7 170.2 1022.4 173.2 1022.1 176.2 1021.8 179.2 1021.5 182.2 1021.2 185.2 1020.8 188.2 1020.5 191.2 1020.1 194.2 1019.8 197.2 1019.4 200.2 1019.0 203.2 1018.7 206.2 1018.3 209.2 1017.9 212.2 1017.5 215.2 1017.1 218.2 1016.7 221.2 1016.4 224.2 1016.0 227.2 1015.6 230.2 1015.2 233.2 1014.9 236.2 1014.5 239.2 1014.1 242.2 1013.8 245.2 1013.5 248.2 1013.2 251.2 1012.9 254.2 1012.6 257.2 1012.3 260.2 1012.0 263.2 1011.8 266.2 1011.6 269.2 1011.4 272.2 1011.3 275.2 1011.1 278.2 1011.0 281.2 1011.0 284.2 1010.9 287.2 1010.8 290.2 1010.8 293.2 1010.8 296.2 1010.7 299.2 1010.7 302.2 1010.6 305.2 1010.5 308.2 1010.4 311.2 1010.2 314.2 1010.0 317.2 1009.8 320.2 1009.6 323.2 1009.3 326.2 1009.0 329.2 1008.6 332.2 1008.3 335.2 1007.9 338.2 1007.4 341.2 1007.0 344.2 1006.5 347.2 1006.0 350.2 1005.5 353.2 1005.0 356.2 1004.4 359.2 1003.9 362.2 1003.3 365.2 1002.7 368.2 1002.0 371.2 1001.4 374.2 1000.7 377.2 1000.1 380.2 999.4 383.2 998.7 386.2 998.0 389.2 997.3 392.2 996.6 395.2 995.9 398.2 995.2 401.2 994.4 404.2 993.7 407.2 993.0 410.2 992.3 413.2 991.5 416.2 990.8 419.2 990.1 422.2 989.4 425.2 988.8 428.2 988.1 431.2 987.4 434.2 986.8 437.2 986.2 440.2 985.6 443.2 985.0 446.2 984.5 449.2 984.0 452.2 983.5 455.2 983.0 458.2 982.6 461.2 982.2 464.2 981.8 467.2 981.5 470.2 981.2 473.2 980.9 476.2 980.6 479.2 980.4 482.2 980.1 485.2 979.9 488.2 979.7 491.2 979.5 494.2 979.3 497.2 979.2 500.2 979.0 503.2 978.9 506.2 978.7 509.2 978.6 512.2 978.5 515.2 978.4 518.2 978.3 521.2 978.3 524.2 978.2 527.2 978.2 530.2 978.2 533.2 978.2 536.2 978.2 539.2 978.3 542.2 978.3 545.2 978.3 548.2 978.4 551.2 978.5 554.2 978.5 557.2 978.6 560.2 978.6 563.2 978.7 566.2 978.7 569.2 978.7 572.2 978.7 575.2 978.8 578.2 978.7 581.2 978.7 584.2 978.7 587.2 978.7 590.2 978.6 593.2 978.6 596.2 978.5 599.2 978.5 602.2 978.4 605.2 978.3 608.2 978.2 611.2 978.1 614.2 978.0 617.2 978.0 620.2 977.9 623.2 977.8 626.2 977.7 629.2 977.6 632.2 977.5 635.2 977.4 638.2 977.3 641.2 977.3 644.2 977.2 647.2 977.1 650.2 977.1 653.2 977.0 656.2 977.0 659.2 976.9 662.2 976.9 665.2 976.9 668.2 976.9 671.2 976.9 674.2 976.9 677.2 977.0 680.2 977.0 683.2 977.1 686.2 977.2 689.2 977.3 692.2 977.4 695.2 977.5 698.2 977.6 701.2 977.8 704.2 977.9 707.2 978.1 710.2 978.3 713.2 978.5 716.2 978.7 719.2 979.0 722.2 979.2 725.2 979.5 728.2 979.8 731.2 980.1 734.2 980.4 737.2 980.7 740.2 981.1 743.2 981.5 746.2 981.9 749.2 982.3 752.2 982.7 755.2 983.1 758.2 983.5 761.2 984.0 764.2 984.5 767.2 985.0 770.2 985.4 773.2 985.9 776.2 986.4 779.2 987.0 782.2 987.5 785.2 988.0 788.2 988.5 791.2 989.1 794.2 989.6 797.2 990.2 800.2 990.7 803.2 991.3 806.2 991.8 809.2 992.3 812.2 992.9 815.2 993.4 818.2 994.0 821.2 994.5 824.2 995.0 827.2 995.6 830.2 996.1 833.2 996.7 836.2 997.2 839.2 997.7 842.2 998.3 845.2 998.9 848.2 999.4 851.2 1000.0 854.2 1000.6 857.2 1001.2 860.2 1001.8 863.2 1002.5 866.2 1003.1 869.2 1003.7 872.2 1004.4 875.2 1005.1 878.2 1005.8 881.2 1006.5 884.2 1007.3 887.2 1008.0 890.2 1008.7 893.2 1009.5 896.2 1010.2 899.2 1010.9 902.2 1011.6 905.2 1012.2 908.2 1012.8 911.2 1013.4 914.2 1013.9 917.2 1014.4 920.2 1014.9 923.2 1015.3 926.2 1015.7 929.2 1016.0 932.2 1016.3 935.2 1016.6 938.2 1016.8 941.2 1017.0 944.2 1017.2 947.2 1017.4 950.2 1017.5 953.2 1017.6 956.2 1017.8 959.2 1017.9 962.2 1018.0 965.2 1018.1 968.2 1018.3 971.2 1018.4 974.2 1018.6 977.2 1018.8 980.2 1019.0 983.2 1019.2 986.2 1019.4 989.2 1019.7 992.2 1020.0 995.2 1020.3 998.2 1020.6 1001.0 1021.0" stroke="#4C72B0"/>
<path d="M128.2 1023.8L131.2 1023.6 134.2 1023.4 137.2 1023.1 140.2 1022.9 143.2 1022.6 146.2 1022.3 149.2 1022.1 152.2 1021.8 155.2 1021.5 158.2 1021.2 161.2 1020.8 164.2 1020.5 167.2 1020.2 170.2 1019.8 173.2 1019.5 176.2 1019.1 179.2 1018.7 182.2 1018.3 185.2 1017.9 188.2 1017.4 191.2 1017.0 194.2 1016.5 197.2 1016.1 200.2 1015.6 203.2 1015.1 206.2 1014.6 209.2 1014.0 212.2 1013.5 215.2 1012.9 218.2 1012.4 221.2 1011.8 224.2 1011.2 227.2 1010.6 230.2 1009.9 233.2 1009.3 236.2 1008.6 239.2 1008.0 242.2 1007.3 245.2 1006.6 248.2 1005.9 251.2 1005.2 254.2 1004.5 257.2 1003.8 260.2 1003.1 263.2 1002.3 266.2 1001.6 269.2 1000.9 272.2 1000.1 275.2 999.4 278.2 998.6 281.2 997.9 284.2 997.2 287.2 996.4 290.2 995.7 293.2 994.9 296.2 994.2 299.2 993.5 302.2 992.7 305.2 992.0 308.2 991.3 311.2 990.6 314.2 989.9 317.2 989.2 320.2 988.6 323.2 987.9 326.2 987.2 329.2 986.6 332.2 986.0 335.2 985.4 338.2 984.8 341.2 984.3 344.2 983.7 347.2 983.2 350.2 982.7 353.2 982.2 356.2 981.7 359.2 981.3 362.2 980.9 365.2 980.4 368.2 980.0 371.2 979.7 374.2 979.3 377.2 979.0 380.2 978.7 383.2 978.4 386.2 978.1 389.2 977.9 392.2 977.6 395.2 977.4 398.2 977.2 401.2 977.1 404.2 976.9 407.2 976.8 410.2 976.7 413.2 976.5 416.2 976.5 419.2 976.4 422.2 976.3 425.2 976.3 428.2 976.2 431.2 976.2 434.2 976.2 437.2 976.2 440.2 976.2 443.2 976.3 446.2 976.3 449.2 976.4 452.2 976.4 455.2 976.5 458.2 976.6 461.2 976.7 464.2 976.8 467.2 976.9 470.2 977.0 473.2 977.1 476.2 977.2 479.2 977.4 482.2 977.5 485.2 977.6 488.2 977.8 491.2 977.9 494.2 978.1 497.2 978.2 500.2 978.4 503.2 978.5 506.2 978.7 509.2 978.8 512.2 979.0 515.2 979.1 518.2 979.3 521.2 979.4 524.2 979.6 527.2 979.7 530.2 979.9 533.2 980.0 536.2 980.2 539.2 980.3 542.2 980.4 545.2 980.6 548.2 980.7 551.2 980.8 554.2 981.0 557.2 981.1 560.2 981.2 563.2 981.3 566.2 981.5 569.2 981.6 572.2 981.7 575.2 981.8 578.2 982.0 581.2 982.1 584.2 982.2 587.2 982.4 590.2 982.5 593.2 982.6 596.2 982.8 599.2 982.9 602.2 983.0 605.2 983.2 608.2 983.3 611.2 983.5 614.2 983.6 617.2 983.8 620.2 983.9 623.2 984.1 626.2 984.2 629.2 984.4 632.2 984.6 635.2 984.7 638.2 984.9 641.2 985.1 644.2 985.3 647.2 985.5 650.2 985.7 653.2 985.9 656.2 986.1 659.2 986.3 662.2 986.5 665.2 986.8 668.2 987.0 671.2 987.3 674.2 987.5 677.2 987.8 680.2 988.0 683.2 988.3 686.2 988.6 689.2 988.9 692.2 989.2 695.2 989.5 698.2 989.8 701.2 990.1 704.2 990.5 707.2 990.8 710.2 991.2 713.2 991.5 716.2 991.9 719.2 992.3 722.2 992.7 725.2 993.1 728.2 993.5 731.2 993.9 734.2 994.3 737.2 994.8 740.2 995.3 743.2 995.7 746.2 996.2 749.2 996.7 752.2 997.2 755.2 997.7 758.2 998.3 761.2 998.8 764.2 999.3 767.2 999.9 770.2 1000.5 773.2 1001.1 776.2 1001.7 779.2 1002.3 782.2 1002.9 785.2 1003.6 788.2 1004.2 791.2 1004.9 794.2 1005.5 797.2 1006.2 800.2 1006.8 803.2 1007.5 806.2 1008.2 809.2 1008.9 812.2 1009.5 815.2 1010.2 818.2 1010.9 821.2 1011.6 824.2 1012.3 827.2 1012.9 830.2 1013.6 833.2 1014.3 836.2 1014.9 839.2 1015.6 842.2 1016.2 845.2 1016.9 848.2 1017.5 851.2 1018.2 854.2 1018.8 857.2 1019.4 860.2 1020.0 863.2 1020.6 866.2 1021.2 869.2 1021.8 872.2 1022.3 875.2 1022.9 878.2 1023.5 881.2 1024.0 884.2 1024.5 887.2 1025.1 890.2 1025.6 893.2 1026.1 896.2 1026.6 899.2 1027.1 902.2 1027.5 905.2 1028.0 908.2 1028.4 911.2 1028.9 914.2 1029.3 917.2 1029.7 920.2 1030.1 923.2 1030.5 926.2 1030.9 929.2 1031.2 932.2 1031.6 935.2 1031.9 938.2 1032.3 941.2 1032.6 944.2 1032.9 947.2 1033.2 950.2 1033.5 953.2 1033.8 956.2 1034.0 959.2 1034.3 962.2 1034.6 965.2 1034.8 968.2 1035.1 971.2 1035.3 974.2 1035.6 977.2 1035.8 980.2 1036.1 983.2 1036.3 986.2 1036.5 989.2 1036.8 992.2 1037.0 995.2 1037.3 998.2 1037.5 1001.0 1037.7" stroke="#DD8452"/>
<path d="M128.2 1024.6L131.2 1024.6 134.2 1024.6 137.2 1024.7 140.2 1024.7 143.2 1024.8 146.2 1024.9 149.2 1025.0 152.2 1025.1 155.2 1025.2 158.2 1025.3 161.2 1025.4 164.2 1025.5 167.2 1025.7 170.2 1025.8 173.2 1026.0 176.2 1026.1 179.2 1026.3 182.2 1026.4 185.2 1026.6 188.2 1026.7 191.2 1026.9 194.2 1027.1 197.2 1027.2 200.2 1027.4 203.2 1027.5 206.2 1027.7 209.2 1027.9 212.2 1028.0 215.2 1028.2 218.2 1028.4 221.2 1028.5 224.2 1028.7 227.2 1028.8 230.2 1029.0 233.2 1029.2 236.2 1029.4 239.2 1029.6 242.2 1029.8 245.2 1030.1 248.2 1030.4 251.2 1030.8 254.2 1031.2 257.2 1031.7 260.2 1032.2 263.2 1032.8 266.2 1033.4 269.2 1034.1 272.2 1034.8 275.2 1035.5 278.2 1036.3 281.2 1037.0 284.2 1037.8 287.2 1038.5 290.2 1039.3 293.2 1040.0 296.2 1040.8 299.2 1041.5 302.2 1042.2 305.2 1042.8 308.2 1043.4 311.2 1043.9 314.2 1044.4 317.2 1044.9 320.2 1045.3 323.2 1045.6 326.2 1045.9 329.2 1046.2 332.2 1046.4 335.2 1046.6 338.2 1046.7 341.2 1046.8 344.2 1046.8 347.2 1046.8 350.2 1046.8 353.2 1046.7 356.2 1046.6 359.2 1046.5 362.2 1046.3 365.2 1046.2 368.2 1045.9 371.2 1045.7 374.2 1045.4 377.2 1045.1 380.2 1044.8 383.2 1044.4 386.2 1044.0 389.2 1043.6 392.2 1043.2 395.2 1042.8 398.2 1042.4 401.2 1041.9 404.2 1041.4 407.2 1040.9 410.2 1040.4 413.2 1039.9 416.2 1039.4 419.2 1038.9 422.2 1038.3 425.2 1037.8 428.2 1037.2 431.2 1036.6 434.2 1036.1 437.2 1035.5 440.2 1034.9 443.2 1034.3 446.2 1033.7 449.2 1033.1 452.2 1032.5 455.2 1031.9 458.2 1031.4 461.2 1030.8 464.2 1030.2 467.2 1029.7 470.2 1029.1 473.2 1028.6 476.2 1028.1 479.2 1027.6 482.2 1027.2 485.2 1026.8 488.2 1026.4 491.2 1026.0 494.2 1025.6 497.2 1025.2 500.2 1024.9 503.2 1024.6 506.2 1024.3 509.2 1024.0 512.2 1023.8 515.2 1023.5 518.2 1023.3 521.2 1023.1 524.2 1022.9 527.2 1022.7 530.2 1022.5 533.2 1022.3 536.2 1022.2 539.2 1022.0 542.2 1021.9 545.2 1021.8 548.2 1021.6 551.2 1021.5 554.2 1021.4 557.2 1021.3 560.2 1021.2 563.2 1021.1 566.2 1021.0 569.2 1020.9 572.2 1020.8 575.2 1020.7 578.2 1020.6 581.2 1020.5 584.2 1020.4 587.2 1020.3 590.2 1020.2 593.2 1020.0 596.2 1019.9 599.2 1019.8 602.2 1019.7 605.2 1019.5 608.2 1019.4 611.2 1019.2 614.2 1019.0 617.2 1018.9 620.2 1018.7 623.2 1018.5 626.2 1018.3 629.2 1018.0 632.2 1017.8 635.2 1017.5 638.2 1017.3 641.2 1017.0 644.2 1016.7 647.2 1016.3 650.2 1016.0 653.2 1015.6 656.2 1015.2 659.2 1014.9 662.2 1014.5 665.2 1014.1 668.2 1013.7 671.2 1013.3 674.2 1013.0 677.2 1012.6 680.2 1012.2 683.2 1011.9 686.2 1011.6 689.2 1011.3 692.2 1011.1 695.2 1010.9 698.2 1010.7 701.2 1010.5 704.2 1010.4 707.2 1010.3 710.2 1010.2 713.2 1010.1 716.2 1010.0 719.2 1010.0 722.2 1010.0 725.2 1010.0 728.2 1009.9 731.2 1009.9 734.2 1009.9 737.2 1009.9 740.2 1009.9 743.2 1009.9 746.2 1009.8 749.2 1009.8 752.2 1009.7 755.2 1009.6 758.2 1009.6 761.2 1009.5 764.2 1009.4 767.2 1009.3 770.2 1009.2 773.2 1009.1 776.2 1009.0 779.2 1008.9 782.2 1008.8 785.2 1008.6 788.2 1008.5 791.2 1008.4 794.2 1008.3 797.2 1008.1 800.2 1008.0 803.2 1007.9 806.2 1007.7 809.2 1007.6 812.2 1007.5 815.2 1007.3 818.2 1007.2 821.2 1007.0 824.2 1006.9 827.2 1006.8 830.2 1006.6 833.2 1006.5 836.2 1006.4 839.2 1006.3 842.2 1006.2 845.2 1006.1 848.2 1006.0 851.2 1006.0 854.2 1006.0 857.2 1006.0 860.2 1006.0 863.2 1006.0 866.2 1006.1 869.2 1006.2 872.2 1006.3 875.2 1006.5 878.2 1006.7 881.2 1007.0 884.2 1007.2 887.2 1007.5 890.2 1007.8 893.2 1008.1 896.2 1008.3 899.2 1008.6 902.2 1008.8 905.2 1009.0 908.2 1009.2 911.2 1009.3 914.2 1009.4 917.2 1009.5 920.2 1009.5 923.2 1009.5 926.2 1009.4 929.2 1009.3 932.2 1009.2 935.2 1009.1 938.2 1008.9 941.2 1008.7 944.2 1008.6 947.2 1008.4 950.2 1008.2 953.2 1008.0 956.2 1007.8 959.2 1007.7 962.2 1007.5 965.2 1007.3 968.2 1007.2 971.2 1007.1 974.2 1007.0 977.2 1006.9 980.2 1006.8 983.2 1006.8 986.2 1006.8 989.2 1006.7 992.2 1006.8 995.2 1006.8 998.2 1006.9 1001.0 1007.0" stroke="#55A868"/>
<path d="M128.00 1024.40H1000.50" stroke="#000" stroke-opacity="0.3" stroke-dasharray="14.2 6.29"/>
<path d="M497.00 965.60L523.80 992.40M497.00 992.40L523.80 965.60" stroke="#1a1a1a" stroke-width="3.6"/>
<path d="M497.00 1010.40L523.80 1037.20M497.00 1037.20L523.80 1010.40" stroke="#1a1a1a" stroke-width="3.6"/>
</g>
<rect x="128.00" y="854.40" width="872.50" height="212.50" fill="none" stroke="#1a1a1a" stroke-width="2.3"/>
<path d="M128.00 1066.90v11.6M273.42 1066.90v11.6M418.83 1066.90v11.6M564.25 1066.90v11.6M709.67 1066.90v11.6M855.08 1066.90v11.6M1000.50 1066.90v11.6M128.00 1024.40h-11.8M128.00 918.15h-11.8" stroke="#1a1a1a" stroke-width="2.2" fill="none"/>
<text transform="translate(108.6 1037.20) scale(1 1.05)" text-anchor="end" class="tl">0</text>
<text transform="translate(108.6 930.95) scale(1 1.05)" text-anchor="end" class="tl">250</text>
<text x="137.5" y="892.10" class="pl">(d)</text>
<g transform="translate(0 1043.10) rotate(-90)"><text x="-1.0" y="32.1" class="m" font-style="oblique" font-size="41">B</text><text x="27.0" y="39.4" class="m" font-size="29.2">r</text><text x="37.5" y="39.4" class="m" font-size="29.2">,</text><text x="54.3" y="39.5" class="m" font-size="29.2">4</text><text transform="translate(85.7 32.5) scale(0.96 1)" class="al">[mT]</text></g>
<text transform="translate(128.00 1111.7) scale(1 1.05)" text-anchor="middle" class="tl">0.0</text>
<text transform="translate(273.42 1111.7) scale(1 1.05)" text-anchor="middle" class="tl">0.5</text>
<text transform="translate(418.83 1111.7) scale(1 1.05)" text-anchor="middle" class="tl">1.0</text>
<text transform="translate(564.25 1111.7) scale(1 1.05)" text-anchor="middle" class="tl">1.5</text>
<text transform="translate(709.67 1111.7) scale(1 1.05)" text-anchor="middle" class="tl">2.0</text>
<text transform="translate(855.08 1111.7) scale(1 1.05)" text-anchor="middle" class="tl">2.5</text>
<text transform="translate(1000.50 1111.7) scale(1 1.05)" text-anchor="middle" class="tl">3.0</text>
<text x="563.5" y="1156.6" text-anchor="middle" class="al">Time [us]</text>
<rect x="127.6" y="2.9" width="732.1" height="63.6" rx="8" ry="8" fill="#fff" fill-opacity="0.8" stroke="#cccccc" stroke-width="1.6"/>
<path d="M141.00 30.7H217.30" stroke="#4C72B0" stroke-width="4.10"/>
<text x="245.00" y="43.9" class="lg">Total</text>
<path d="M395.20 30.7H471.30" stroke="#DD8452" stroke-width="4.10"/>
<text x="499.00" y="43.9" class="lg">Coil</text>
<path d="M634.70 30.7H711.30" stroke="#55A868" stroke-width="4.10"/>
<text x="738.50" y="43.9" class="lg" textLength="107.3" lengthAdjust="spacingAndGlyphs">Plasma</text>
</svg>
</body></html>
